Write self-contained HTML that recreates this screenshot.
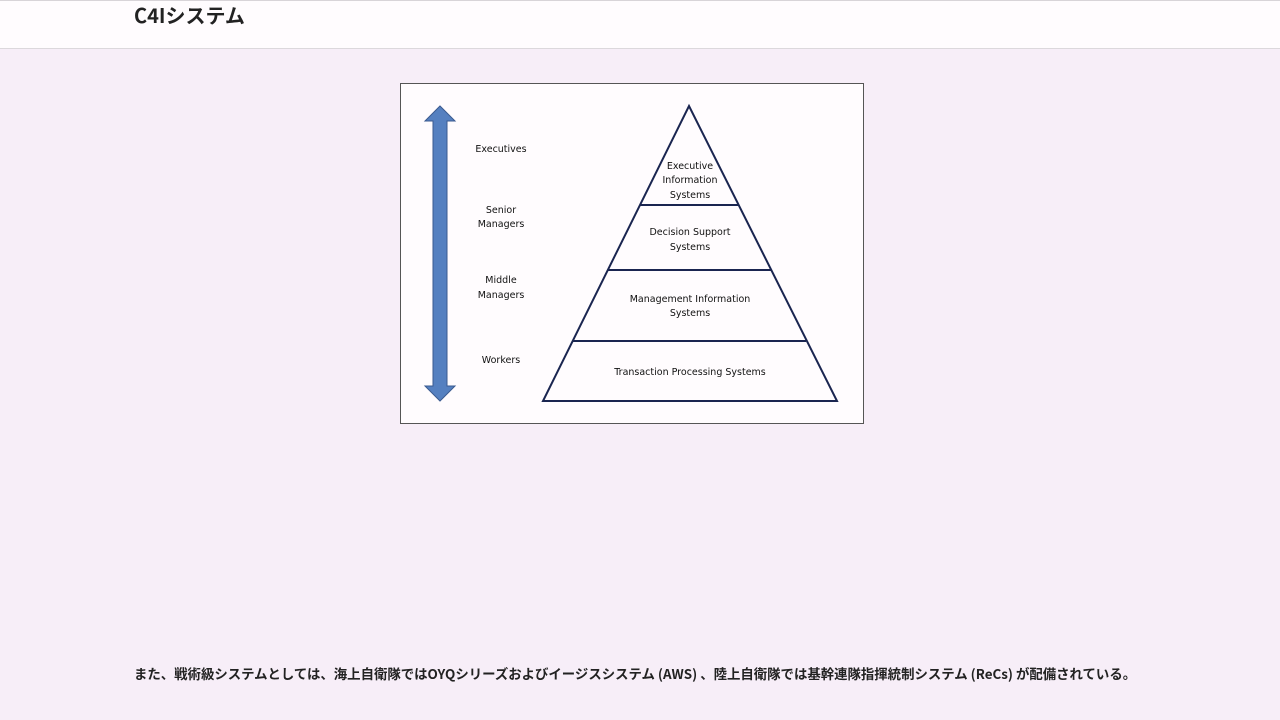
<!DOCTYPE html>
<html><head><meta charset="utf-8"><style>
html,body{margin:0;padding:0;width:1280px;height:720px;overflow:hidden;background:#f7eef8;font-family:"Noto Sans CJK JP",sans-serif;}
.hdr{position:absolute;left:0;top:0;width:1280px;height:49px;background:#fffcfe;border-top:1px solid #d8d4d8;border-bottom:1px solid #dcd8dc;box-sizing:border-box;}
.hdr h1{position:absolute;left:134px;top:-2px;margin:0;font-size:20px;line-height:32px;font-weight:bold;color:#222;font-family:"Noto Sans CJK JP",sans-serif;}
.foot{position:absolute;left:134px;top:663px;font-size:13.4px;line-height:20px;font-weight:bold;color:#222;white-space:nowrap;font-family:"Noto Sans CJK JP",sans-serif;}
svg{position:absolute;left:0;top:0}
svg text{font-family:"DejaVu Sans","Liberation Sans",sans-serif;font-size:9.5px;fill:#111;text-anchor:middle}
</style></head><body>
<div class="hdr"><h1>C4Iシステム</h1></div>
<svg width="1280" height="720">
<rect x="400.5" y="83.5" width="463" height="340" fill="#fffcfe" stroke="#555" stroke-width="1"/>
<polygon points="440,106 455,121 447,121 447,386 455,386 440,401 425,386 433,386 433,121 425,121" fill="#5580c0" stroke="#3a5a90" stroke-width="1"/>
<text x="501" y="152">Executives</text>
<text x="501" y="213">Senior</text>
<text x="501" y="227">Managers</text>
<text x="501" y="283">Middle</text>
<text x="501" y="298">Managers</text>
<text x="501" y="363">Workers</text>
<polygon points="689,106 837,401 543,401" fill="#fffcfe" stroke="#1a2550" stroke-width="2"/>
<line x1="640" y1="205" x2="739" y2="205" stroke="#1a2550" stroke-width="2"/>
<line x1="608" y1="270" x2="771" y2="270" stroke="#1a2550" stroke-width="2"/>
<line x1="573" y1="341" x2="806" y2="341" stroke="#1a2550" stroke-width="2"/>
<text x="690" y="169">Executive</text>
<text x="690" y="183">Information</text>
<text x="690" y="198">Systems</text>
<text x="690" y="235">Decision Support</text>
<text x="690" y="250">Systems</text>
<text x="690" y="302">Management Information</text>
<text x="690" y="316">Systems</text>
<text x="690" y="375">Transaction Processing Systems</text>
</svg>
<div class="foot">また、戦術級システムとしては、海上自衛隊ではOYQシリーズおよびイージスシステム (AWS) 、陸上自衛隊では基幹連隊指揮統制システム (ReCs) が配備されている。</div>
</body></html>
